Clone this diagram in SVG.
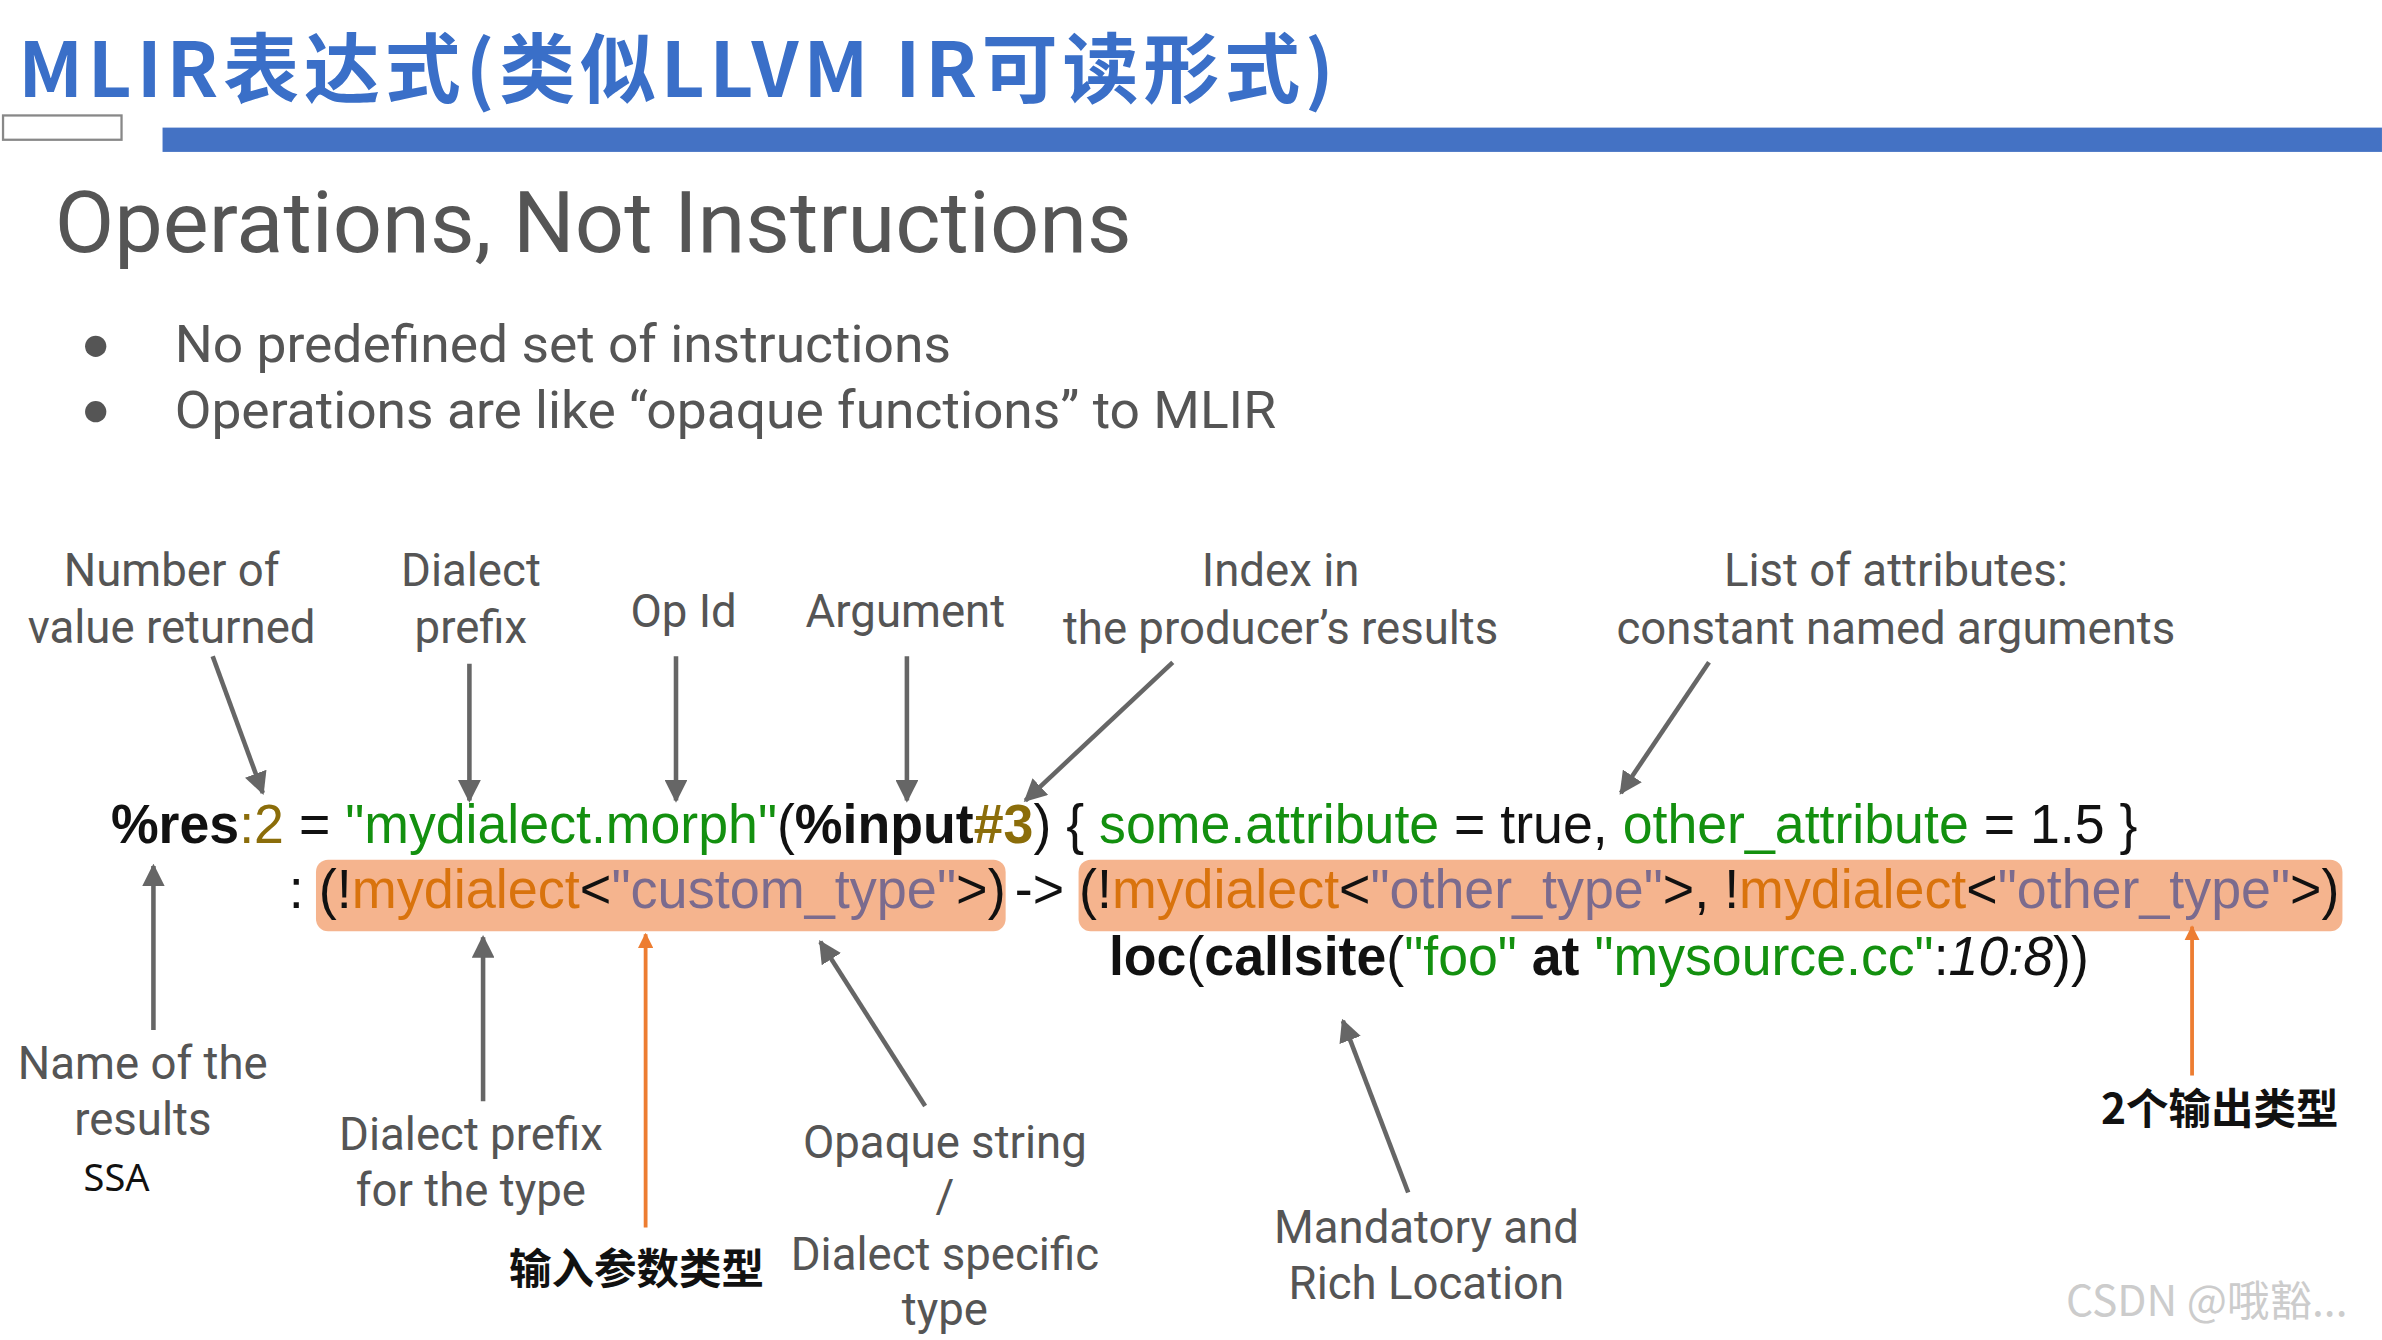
<svg xmlns="http://www.w3.org/2000/svg" width="2382" height="1340" viewBox="0 0 2382 1340">
<style>
.lbl{font-family:Roboto,"Liberation Sans",sans-serif;font-size:30px;fill:#555;text-anchor:middle}
.code{font-family:"Liberation Sans",Arial,sans-serif;font-size:36px;fill:#111}
.g{fill:#13900f}.o{fill:#d9730d}.ol{fill:#8b6d0a}.p{fill:#7b6b8e}.b{font-weight:bold}
.cn{font-family:"Noto Sans CJK SC",sans-serif;font-weight:bold;font-size:28px;fill:#111}
.ar{stroke:#666;stroke-width:3;fill:none;marker-end:url(#ag)}
.ao{stroke:#ed7d31;stroke-width:2.5;fill:none;marker-end:url(#ao)}
</style>
<defs>
<marker id="ag" viewBox="0 0 10 10" refX="9" refY="5" markerWidth="5" markerHeight="5" orient="auto"><path d="M0,0L10,5L0,10z" fill="#666"/></marker>
<marker id="ao" viewBox="0 0 10 10" refX="9" refY="5" markerWidth="4" markerHeight="4" orient="auto"><path d="M0,0L10,5L0,10z" fill="#ed7d31"/></marker>
</defs>
<rect width="2382" height="1340" fill="#fff"/>
<g transform="scale(1.5191)">
<g id="header">
<text x="12" y="64" font-family="'Noto Sans CJK SC',sans-serif" font-weight="bold" font-size="50" fill="#3a6fc8" textLength="866" lengthAdjust="spacing">MLIR表达式(类似LLVM IR可读形式)</text>
<rect x="2" y="76" width="78" height="16" fill="#fff" stroke="#888" stroke-width="1.5"/>
<rect x="107" y="84" width="1461" height="16" fill="#4472c4"/>
<text x="36" y="166" font-family="Roboto,'Liberation Sans',sans-serif" font-size="56" fill="#555" textLength="709" lengthAdjust="spacingAndGlyphs">Operations, Not Instructions</text>
<circle cx="63" cy="228" r="7" fill="#555"/><circle cx="63" cy="271" r="7" fill="#555"/>
<text x="115" y="238" font-family="Roboto,'Liberation Sans',sans-serif" font-size="34" fill="#555" textLength="511" lengthAdjust="spacingAndGlyphs">No predefined set of instructions</text>
<text x="115" y="282" font-family="Roboto,'Liberation Sans',sans-serif" font-size="34" fill="#555" textLength="725" lengthAdjust="spacingAndGlyphs">Operations are like “opaque functions” to MLIR</text>
</g>
<g id="code">
<rect x="208" y="566" width="454" height="47" rx="8" fill="#f5b48e"/>
<rect x="710" y="566" width="832" height="47" rx="8" fill="#f5b48e"/>
<text class="code" x="73" y="555" textLength="1334" lengthAdjust="spacingAndGlyphs"><tspan class="b">%res</tspan><tspan class="ol">:2</tspan> = <tspan class="g">"mydialect.morph"</tspan>(<tspan class="b">%input</tspan><tspan class="ol b">#3</tspan>) { <tspan class="g">some.attribute</tspan> = true, <tspan class="g">other_attribute</tspan> = 1.5 }</text>
<text class="code" x="190" y="598" textLength="472" lengthAdjust="spacingAndGlyphs">: (!<tspan class="o">mydialect</tspan>&lt;<tspan class="p">"custom_type"</tspan>&gt;)</text>
<text class="code" x="668" y="598" textLength="872" lengthAdjust="spacingAndGlyphs">-&gt; (!<tspan class="o">mydialect</tspan>&lt;<tspan class="p">"other_type"</tspan>&gt;, !<tspan class="o">mydialect</tspan>&lt;<tspan class="p">"other_type"</tspan>&gt;)</text>
<text class="code" x="730" y="642" textLength="645" lengthAdjust="spacingAndGlyphs"><tspan class="b">loc</tspan>(<tspan class="b">callsite</tspan>(<tspan class="g">"foo"</tspan> <tspan class="b">at</tspan> <tspan class="g">"mysource.cc"</tspan>:<tspan font-style="italic">10:8</tspan>))</text>
</g>
<g id="labels">
<text class="lbl" x="113" y="386">Number of</text><text class="lbl" x="113" y="423">value returned</text>
<text class="lbl" x="310" y="386">Dialect</text><text class="lbl" x="310" y="423">prefix</text>
<text class="lbl" x="450" y="413">Op Id</text>
<text class="lbl" x="596" y="413">Argument</text>
<text class="lbl" x="843" y="386">Index in</text><text class="lbl" x="843" y="424">the producer’s results</text>
<text class="lbl" x="1248" y="386">List of attributes:</text><text class="lbl" x="1248" y="424">constant named arguments</text>
<text class="lbl" x="94" y="710">Name of the</text><text class="lbl" x="94" y="747">results</text>
<text x="55" y="784" font-family="'Noto Sans',sans-serif" font-size="25" fill="#111">SSA</text>
<text class="lbl" x="310" y="757">Dialect prefix</text><text class="lbl" x="310" y="794">for the type</text>
<text class="cn" x="335" y="845">输入参数类型</text>
<text class="lbl" x="622" y="762">Opaque string</text><text class="lbl" x="622" y="798">/</text><text class="lbl" x="622" y="836">Dialect specific</text><text class="lbl" x="622" y="872">type</text>
<text class="lbl" x="939" y="818">Mandatory and</text><text class="lbl" x="939" y="855">Rich Location</text>
<text class="cn" x="1383" y="740">2个输出类型</text>
<text x="1360" y="866" font-family="'Noto Sans CJK SC',sans-serif" font-size="28" fill="#ccc">CSDN @哦豁...</text>
</g>
<g id="connectors">
<path class="ar" d="M140,432L173,522"/>
<path class="ar" d="M309,437V527"/>
<path class="ar" d="M445,432V527"/>
<path class="ar" d="M597,432V527"/>
<path class="ar" d="M772,436L675,527"/>
<path class="ar" d="M1125,436L1067,522"/>
<path class="ar" d="M101,678V570"/>
<path class="ar" d="M318,725V617"/>
<path class="ar" d="M609,728L540,620"/>
<path class="ar" d="M927,785L884,672"/>
<path class="ao" d="M425,808V615"/>
<path class="ao" d="M1443,708V610"/>
</g>
</g>
</svg>
